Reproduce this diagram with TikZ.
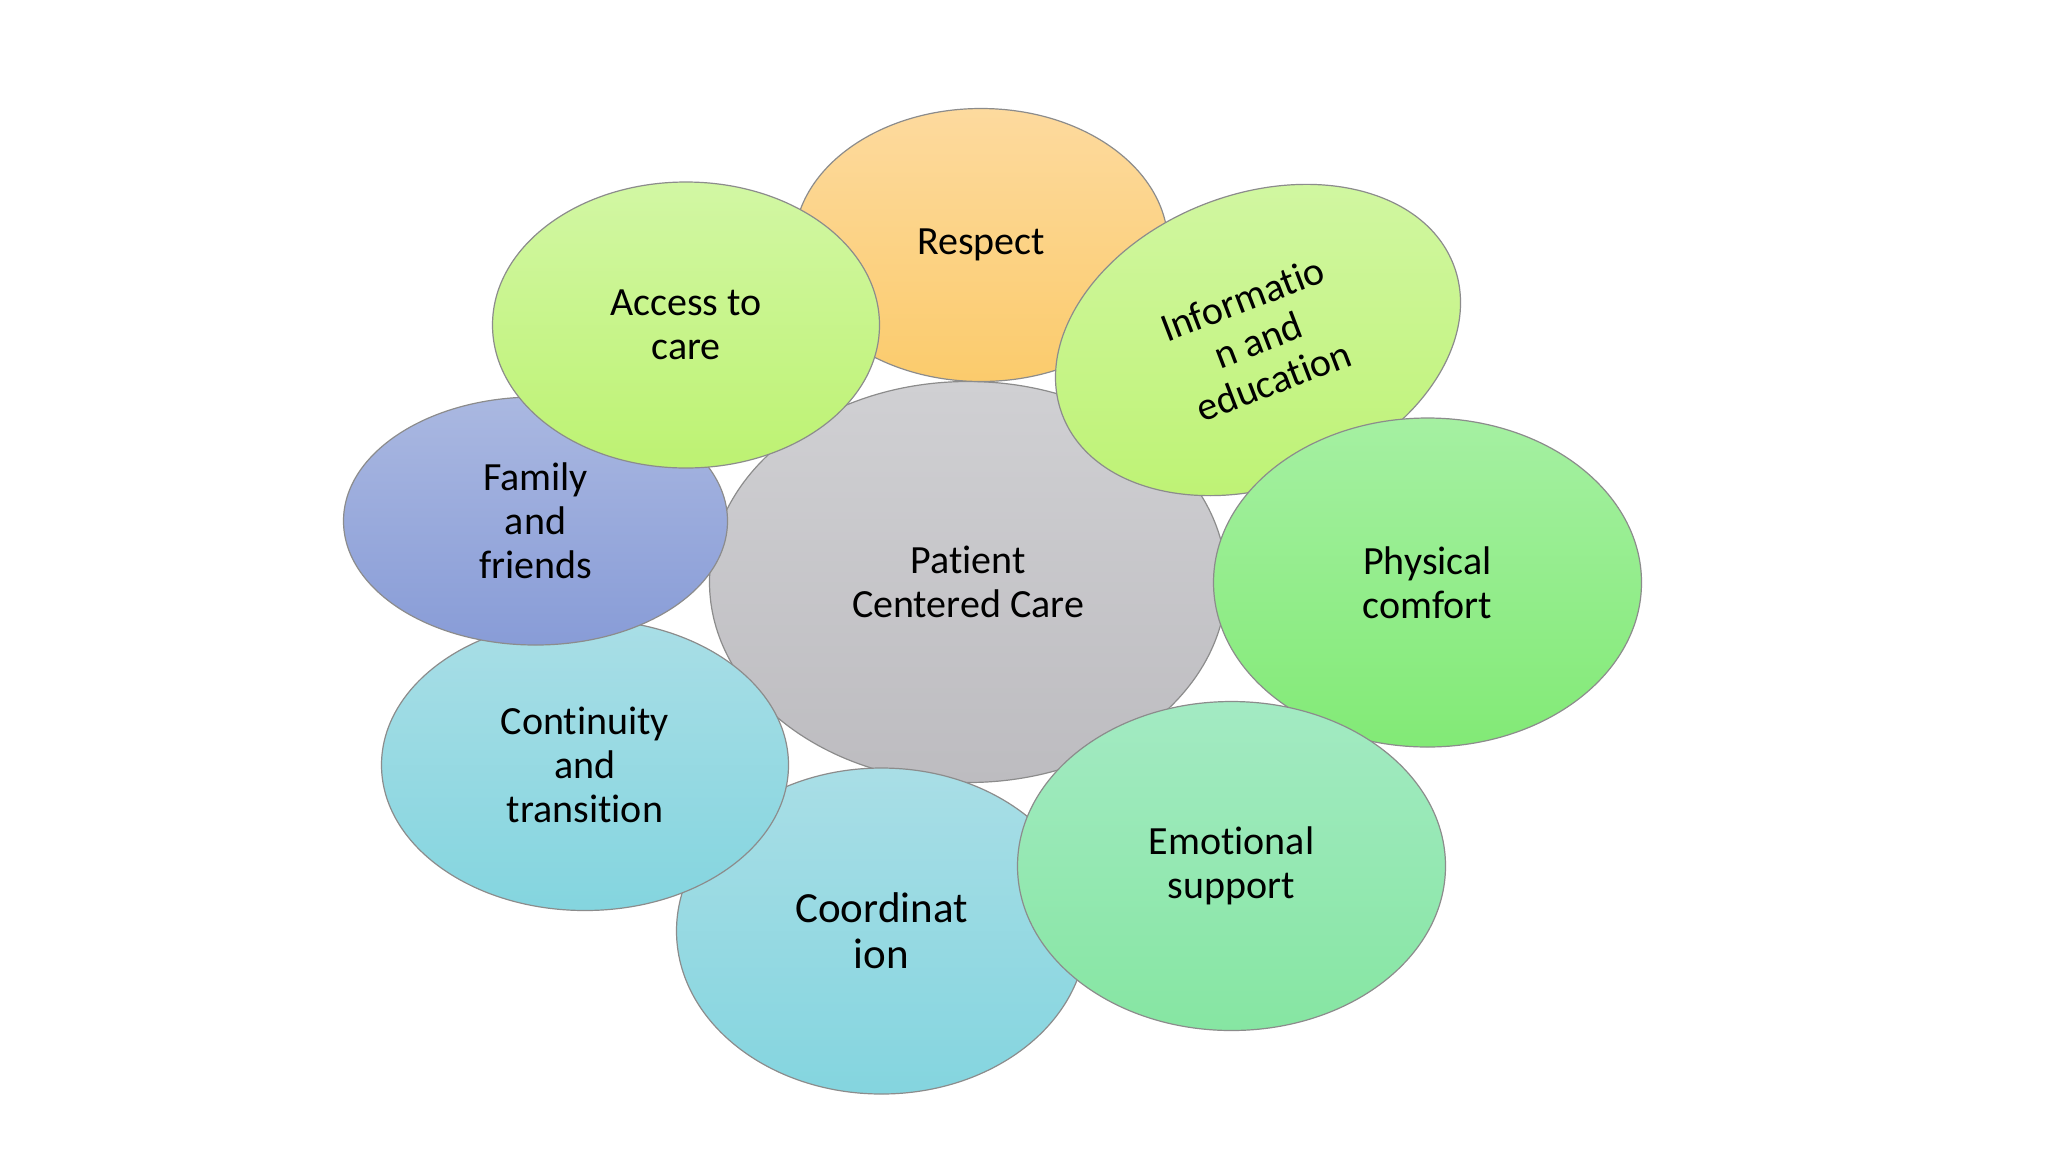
\documentclass[tikz,border=0pt]{standalone}
\usepackage{fontspec}
\setmainfont{Carlito}[Ligatures={NoCommon,NoRare,NoContextual}]
\usetikzlibrary{shapes.geometric}
\tikzset{
  bubble/.style={ellipse, draw=black!45, line width=0.6pt, inner sep=0pt,
    align=center, text=black, font=\fontsize{20pt}{21.9pt}\selectfont},
  orangefill/.style={top color=ob1, bottom color=ob2},
  limefill/.style={top color=lm1, bottom color=lm2},
  bluefill/.style={top color=bl1, bottom color=bl2},
  grayfill/.style={top color=gr1, bottom color=gr2},
  greenfill/.style={top color=gn1, bottom color=gn2},
  mintfill/.style={top color=mt1, bottom color=mt2},
  cyanfill/.style={top color=cy1, bottom color=cy2},
}
\definecolor{ob1}{HTML}{FDDA9E}
\definecolor{ob2}{HTML}{FBCB6C}
\definecolor{lm1}{HTML}{D2F7A4}
\definecolor{lm2}{HTML}{BDF272}
\definecolor{bl1}{HTML}{AAB8E1}
\definecolor{bl2}{HTML}{889CD7}
\definecolor{gr1}{HTML}{D0D0D3}
\definecolor{gr2}{HTML}{BDBCC0}
\definecolor{gn1}{HTML}{A5F0A2}
\definecolor{gn2}{HTML}{82EA76}
\definecolor{mt1}{HTML}{A3EAC3}
\definecolor{mt2}{HTML}{86E6A2}
\definecolor{cy1}{HTML}{A9DEE6}
\definecolor{cy2}{HTML}{84D5DF}
\begin{document}
\begin{tikzpicture}[x=0.5pt,y=-0.5pt]
\useasboundingbox[fill=white] (0,0) rectangle (2048,1152);
% center
\node[bubble, grayfill, minimum width=258.5pt, minimum height=200.5pt] (pcc) at (968,582) {Patient\\Centered Care};
% satellites
\node[bubble, orangefill, minimum width=187pt, minimum height=136.5pt] (respect) at (981,245) {Respect};
\node[bubble, cyanfill, minimum width=205pt, minimum height=163pt,
      font=\fontsize{21.5pt}{23pt}\selectfont] (coord) at (881.5,931) {Coordinat\\ion};
\node[bubble, cyanfill, minimum width=203.5pt, minimum height=145.5pt] (cont) at (585,765) {Continuity\\and\\transition};
\node[bubble, bluefill, minimum width=192pt, minimum height=124pt] (family) at (535.5,521) {Family\\and\\friends};
\node[bubble, limefill, minimum width=193.5pt, minimum height=143pt] (access) at (686,325) {Access to\\care};
\node[bubble, limefill, rotate=21, minimum width=209.5pt, minimum height=146pt] (info) at (1258,340) {Informatio\\n and\\education};
\node[bubble, greenfill, minimum width=214pt, minimum height=164.5pt] (physical) at (1427.5,582.5) {Physical\\comfort};
\node[bubble, mintfill, minimum width=214pt, minimum height=164.5pt] (emotional) at (1231.5,866) {Emotional\\support};
\end{tikzpicture}
\end{document}
